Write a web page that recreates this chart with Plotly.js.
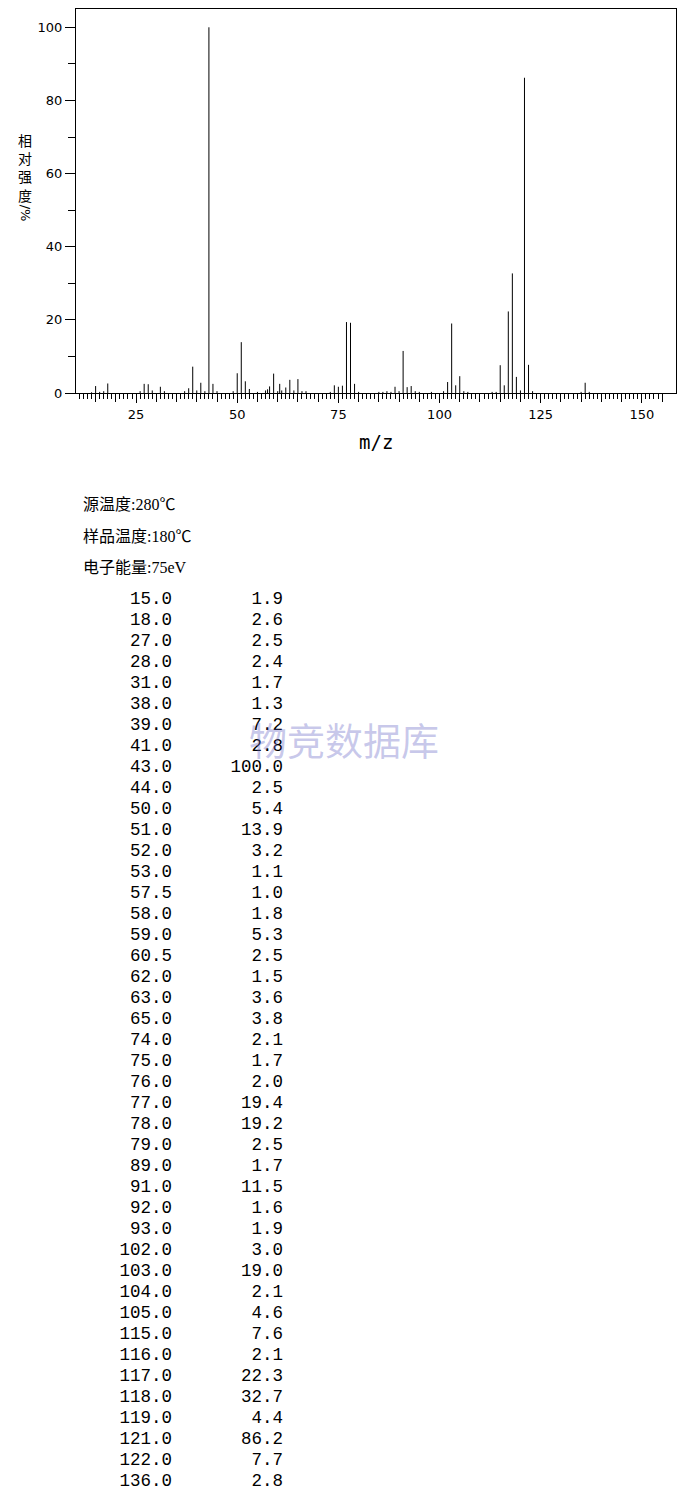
<!DOCTYPE html>
<html><head><meta charset="utf-8">
<script src="https://cdn.plot.ly/plotly-3.0.1.min.js"></script>
<style>
html,body{margin:0;padding:0;background:#fff;}
body{width:687px;height:1486px;position:relative;overflow:hidden;}
#chart{position:absolute;left:0;top:0;width:687px;height:460px;}
.hdr{position:absolute;left:83px;font-family:"Liberation Serif","Noto Sans CJK SC",serif;font-size:16px;color:#000;height:22px;line-height:22px;white-space:nowrap;}
.row{position:absolute;left:0;width:400px;height:21px;line-height:21px;font-family:"Liberation Mono",monospace;font-size:17.5px;color:#000;white-space:pre;}
.c1{position:absolute;left:0;width:172px;text-align:right;}
.c2{position:absolute;left:172px;width:111px;text-align:right;}
#wm{position:absolute;left:194px;width:300px;top:715px;height:48px;line-height:48px;text-align:center;font-family:"Noto Sans CJK SC",sans-serif;font-size:38px;color:rgba(110,110,200,0.38);white-space:nowrap;z-index:5;}
</style>
</head><body>
<div id="chart"></div>
<div id="info"></div>
<div id="wm">物竞数据库</div>
<script>
// Listed peaks (m/z, relative intensity %)
const tableMz = [15.0,18.0,27.0,28.0,31.0,38.0,39.0,41.0,43.0,44.0,50.0,51.0,52.0,53.0,57.5,58.0,59.0,60.5,62.0,63.0,65.0,74.0,75.0,76.0,77.0,78.0,79.0,89.0,91.0,92.0,93.0,102.0,103.0,104.0,105.0,115.0,116.0,117.0,118.0,119.0,121.0,122.0,136.0];
const tableInt = [1.9,2.6,2.5,2.4,1.7,1.3,7.2,2.8,100.0,2.5,5.4,13.9,3.2,1.1,1.0,1.8,5.3,2.5,1.5,3.6,3.8,2.1,1.7,2.0,19.4,19.2,2.5,1.7,11.5,1.6,1.9,3.0,19.0,2.1,4.6,7.6,2.1,22.3,32.7,4.4,86.2,7.7,2.8];
// Small unlisted peaks seen in the spectrum
const minorMz  = [14,16,17,26,29,32,37,40,42,45,49,55,57,60,61,64,66,67,73,80,85,86,87,88,90,94,95,98,101,106,107,113,114,120,123,135,137];
const minorInt = [0.2,0.3,0.5,0.5,0.7,0.5,0.5,0.7,0.5,0.5,0.5,0.3,0.7,0.5,0.7,0.7,0.5,0.5,0.3,0.3,0.3,0.3,0.5,0.3,0.5,0.5,0.3,0.3,0.5,0.5,0.3,0.3,0.3,0.7,0.5,0.3,0.3];
// Header info
const headerLabels = ['源温度','样品温度','电子能量'];
const headerValues = ['280℃','180℃','75eV'];
// Axis labels
const xTickVals = [25,50,75,100,125,150];
const yTickVals = [0,20,40,60,80,100];
const xTitle = 'm/z';
const yTitleChars = ['相','对','强','度'];
const yTitleTail = '/%';

const allMz = tableMz.concat(minorMz);
const allInt = tableInt.concat(minorInt);
const px = [], py = [];
allMz.forEach((m,i)=>{ px.push(m,m,null); py.push(0,allInt[i],null); });

const minorTicks = [];
for (let v=10; v<=155; v++) minorTicks.push(v);
const midTicks = [];
for (let v=10; v<=155; v+=5) midTicks.push(v);

const fontTick = {family:'DejaVu Sans', size:13, color:'#000'};
const traces = [
  {x:px, y:py, type:'scatter', mode:'lines', line:{color:'#000', width:1}, hoverinfo:'skip', showlegend:false, xaxis:'x', yaxis:'y'},
  {x:[10], y:[0], type:'scatter', mode:'markers', marker:{opacity:0}, hoverinfo:'skip', showlegend:false, xaxis:'x2', yaxis:'y'},
  {x:[10], y:[0], type:'scatter', mode:'markers', marker:{opacity:0}, hoverinfo:'skip', showlegend:false, xaxis:'x3', yaxis:'y'}
];
const xr = [10.15, 158.45];
const layout = {
  width:687, height:460,
  margin:{l:76, r:11, t:9, b:67},
  paper_bgcolor:'#fff', plot_bgcolor:'#fff',
  showlegend:false,
  xaxis:{range:xr, showline:true, linecolor:'#000', linewidth:1, mirror:true, showgrid:false, zeroline:false,
    tickmode:'array', tickvals:xTickVals, ticktext:xTickVals.map(String), ticks:'outside', ticklen:9, tickwidth:1, tickcolor:'#000',
    tickfont:fontTick},
  xaxis2:{range:xr, overlaying:'x', anchor:'y', side:'bottom', showline:false, showgrid:false, zeroline:false,
    tickmode:'array', tickvals:midTicks, ticks:'outside', ticklen:8, tickwidth:1, tickcolor:'#000', showticklabels:false},
  xaxis3:{range:xr, overlaying:'x', anchor:'y', side:'bottom', showline:false, showgrid:false, zeroline:false,
    tickmode:'array', tickvals:minorTicks, ticks:'outside', ticklen:5, tickwidth:1, tickcolor:'#000', showticklabels:false},
  yaxis:{range:[0,105], showline:true, linecolor:'#000', linewidth:1, mirror:true, showgrid:false, zeroline:false,
    tickmode:'array', tickvals:yTickVals, ticktext:yTickVals.map(String), ticks:'outside', ticklen:10, tickwidth:1, tickcolor:'#000',
    minor:{dtick:10, tick0:0, ticks:'outside', ticklen:7, tickcolor:'#000', showgrid:false},
    tickfont:fontTick},
  annotations:[
    {xref:'paper', yref:'paper', x:0.5, y:-0.1276, xanchor:'center', yanchor:'middle', showarrow:false,
     text:xTitle, font:{family:'DejaVu Sans Mono', size:19, color:'#000'}},
    {xref:'paper', yref:'paper', x:-0.085, y:0.586, xanchor:'center', yanchor:'middle', showarrow:false,
     text:yTitleChars.join('<br>'), font:{family:'Noto Sans CJK SC', size:14, color:'#000'}},
    {xref:'paper', yref:'paper', x:-0.085, y:0.467, xanchor:'center', yanchor:'middle', showarrow:false, textangle:90,
     text:yTitleTail, font:{family:'DejaVu Sans', size:13, color:'#000'}}
  ]
};
Plotly.newPlot('chart', traces, layout, {staticPlot:true, displayModeBar:false});

// Text block below chart
const info = document.getElementById('info');
const hdrCenters = [505, 536.5, 568];
headerLabels.forEach((lab,i)=>{
  const d = document.createElement('div');
  d.className = 'hdr';
  d.style.top = (hdrCenters[i]-11)+'px';
  d.textContent = lab + ':' + headerValues[i];
  info.appendChild(d);
});
tableMz.forEach((m,i)=>{
  const r = document.createElement('div');
  r.className = 'row';
  r.style.top = (599 + 21*i - 10.5)+'px';
  const a = document.createElement('span'); a.className='c1'; a.textContent = m.toFixed(1);
  const b = document.createElement('span'); b.className='c2'; b.textContent = tableInt[i].toFixed(1);
  r.appendChild(a); r.appendChild(b);
  info.appendChild(r);
});
</script>
</body></html>
